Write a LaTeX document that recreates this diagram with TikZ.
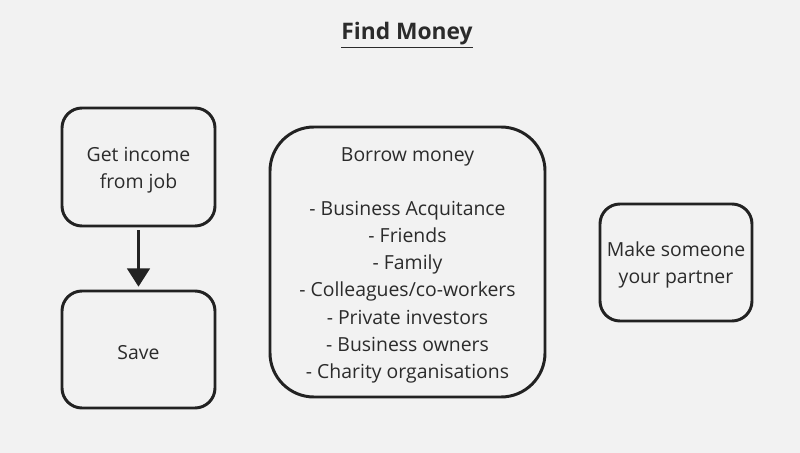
\documentclass[tikz,border=0pt]{standalone}
\usepackage{fontspec}
\setmainfont{Open Sans}
\usepackage{xcolor}
\usetikzlibrary{arrows.meta}
\definecolor{bgcol}{HTML}{F2F2F2}
\definecolor{inkcol}{HTML}{222222}
\definecolor{textcol}{HTML}{2B2B2B}
\newcommand{\boxstrut}{\rule{0pt}{14.5pt}}
\tikzset{
    rounded-box/.style = {draw=inkcol, fill=bgcol, line width=2.1pt, rectangle, rounded corners=0.5cm, align=center, text=textcol, font=\fontsize{13.8}{19.3}\selectfont, inner sep=0pt},
    title-text/.style = {text=textcol, font=\fontsize{16.2}{20}\selectfont\bfseries},
    flow-arrow/.style = {draw=inkcol, line width=2.1pt, -{Triangle[width=16pt,length=13pt]}, shorten <=2pt, shorten >=2pt},
}

\begin{document}
\begin{tikzpicture}
\fill[bgcol] (0,0) rectangle (20,-11.325);
\useasboundingbox (0,0) rectangle (20,-11.325);
\node[title-text] (title) at (10.175,-0.88) {\underline{Find Money}};
\node[rounded-box, minimum width=3.825cm, minimum height=2.95cm] (income) at (3.4625,-4.175) {\boxstrut Get income\\from job};
\node[rounded-box, minimum width=3.825cm, minimum height=2.925cm] (save) at (3.4625,-8.7375) {\boxstrut Save};
\node[rounded-box, rounded corners=1.1cm, minimum width=6.875cm, minimum height=6.75cm] (borrow) at (10.1875,-6.55) {\boxstrut Borrow money\\[19.3pt]
    - Business Acquitance\\
    - Friends\\
    - Family\\
    - Colleagues/co-workers\\
    - Private investors\\
    - Business owners\\
    - Charity organisations};
\node[rounded-box, minimum width=3.8cm, minimum height=2.925cm] (partner) at (16.9,-6.5625) {\boxstrut Make someone\\your partner};
\draw[flow-arrow] (income) -- (save);
\end{tikzpicture}
\end{document}
